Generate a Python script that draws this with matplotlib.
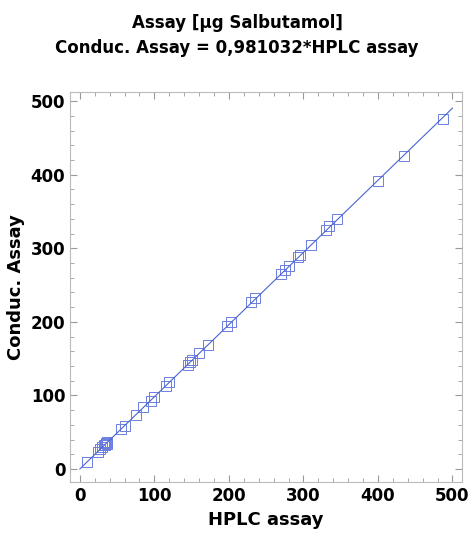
import matplotlib
matplotlib.use("Agg")
import matplotlib.pyplot as plt
import numpy as np
from matplotlib.ticker import MultipleLocator

hplc = [10, 24, 27, 30, 32, 34, 35, 36, 37, 55, 60, 75, 85, 95, 100, 115, 120,
        145, 148, 150, 160, 172, 198, 203, 230, 235, 270, 275, 280, 293, 296, 310,
        330, 335, 345, 400, 435, 487]
conduc = [9, 23, 27, 30, 33, 33, 35, 34, 37, 54, 59, 73, 84, 93, 98, 113, 118,
          142, 146, 148, 158, 168, 195, 200, 227, 233, 265, 271, 276, 288, 291, 305,
          325, 330, 340, 392, 426, 476]
slope = 0.981032

fig = plt.figure(figsize=(4.74, 5.53), dpi=100)
ax = fig.add_axes([0.148, 0.128, 0.827, 0.705])
ax.plot(hplc, conduc, linestyle='none', marker='s', markersize=6.5, mfc='none',
        mec='#6b7ee0', mew=0.7)
xl = np.array([0, 500])
ax.plot(xl, slope * xl, color='#4a64d0', lw=0.8)
ax.set_xlim(-13, 513)
ax.set_ylim(-18, 512)
ax.xaxis.set_major_locator(MultipleLocator(100))
ax.yaxis.set_major_locator(MultipleLocator(100))
ax.xaxis.set_minor_locator(MultipleLocator(20))
ax.yaxis.set_minor_locator(MultipleLocator(20))
ax.tick_params(which='both', direction='in', top=True, right=True, color='#999999')
ax.tick_params(which='major', length=5, labelsize=12)
ax.tick_params(which='minor', length=3)
for lab in ax.get_xticklabels() + ax.get_yticklabels():
    lab.set_fontweight('bold')
for s in ax.spines.values():
    s.set_color('#bbbbbb')
ax.set_xlabel('HPLC assay', fontsize=13, fontweight='bold')
ax.set_ylabel('Conduc. Assay', fontsize=13, fontweight='bold')
fig.text(0.5, 0.975, 'Assay [µg Salbutamol]', ha='center', va='top', fontsize=12, fontweight='bold')
fig.text(0.5, 0.93, 'Conduc. Assay = 0,981032*HPLC assay', ha='center', va='top', fontsize=12, fontweight='bold')
fig.savefig('out.png', dpi=100)
